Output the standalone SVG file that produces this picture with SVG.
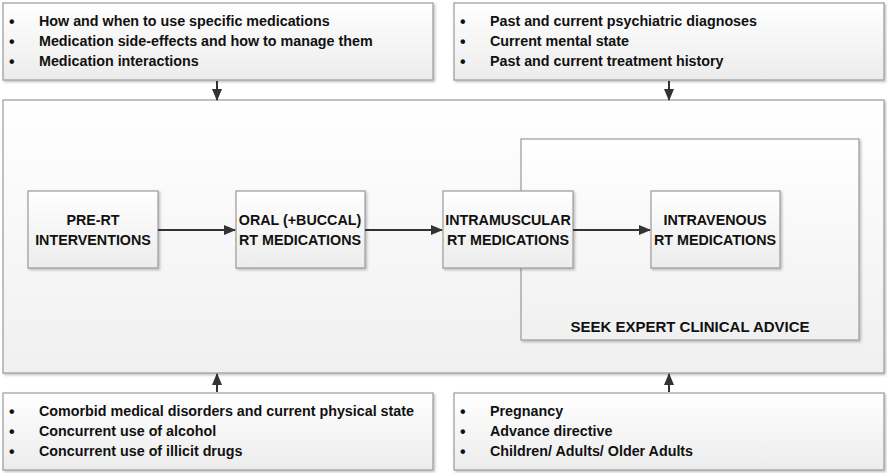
<svg xmlns="http://www.w3.org/2000/svg" width="887" height="473" viewBox="0 0 887 473">
<style>
text{font-family:"Liberation Sans",Arial,sans-serif;font-weight:bold;fill:#111;}
.b{font-size:14.3px;}
.d{font-size:16px;}
.n{font-size:14.3px;text-anchor:middle;}
.box{fill:url(#g);stroke:#9a9a9a;stroke-width:1.2;filter:url(#sh);}
.conn{stroke:#333;stroke-width:2;fill:none;marker-end:url(#ah);}
</style>
<defs>
<linearGradient id="g" x1="0" y1="0" x2="0" y2="1">
<stop offset="0" stop-color="#ffffff"/>
<stop offset="1" stop-color="#ececec"/>
</linearGradient>
<linearGradient id="gm" x1="0" y1="0" x2="0" y2="1">
<stop offset="0" stop-color="#ffffff"/>
<stop offset="1" stop-color="#f0f0f0"/>
</linearGradient>
<filter id="sh" x="-5%" y="-5%" width="110%" height="115%">
<feDropShadow dx="1.5" dy="1.5" stdDeviation="1" flood-color="#000" flood-opacity="0.25"/>
</filter>
<marker id="ah" markerWidth="12" markerHeight="10" refX="11" refY="5" orient="auto" markerUnits="userSpaceOnUse">
<path d="M0,0 L12,5 L0,10 z" fill="#333"/>
</marker>
</defs>
<rect width="887" height="473" fill="#ffffff"/>

<g id="main">
<rect x="3" y="100" width="881" height="273" style="fill:url(#gm);stroke:#9a9a9a;stroke-width:1.2;filter:url(#sh)"/>
</g>
<g id="seek">
<rect x="521" y="139" width="338" height="201" class="box" style="fill:url(#gm)"/>
<text x="690" y="332" class="n" style="font-size:15px">SEEK EXPERT CLINICAL ADVICE</text>
</g>

<g id="top-left">
<rect x="3" y="3" width="430" height="77" class="box"/>
<text x="9" y="27" class="d">•</text><text x="39" y="26" class="b">How and when to use specific medications</text>
<text x="9" y="47" class="d">•</text><text x="39" y="46" class="b">Medication side-effects and how to manage them</text>
<text x="9" y="67" class="d">•</text><text x="39" y="66" class="b">Medication interactions</text>
</g>
<g id="top-right">
<rect x="454" y="3" width="430" height="77" class="box"/>
<text x="460" y="27" class="d">•</text><text x="490" y="26" class="b">Past and current psychiatric diagnoses</text>
<text x="460" y="47" class="d">•</text><text x="490" y="46" class="b">Current mental state</text>
<text x="460" y="67" class="d">•</text><text x="490" y="66" class="b">Past and current treatment history</text>
</g>
<g id="bottom-left">
<rect x="3" y="393" width="430" height="77" class="box"/>
<text x="9" y="417" class="d">•</text><text x="39" y="416" class="b">Comorbid medical disorders and current physical state</text>
<text x="9" y="437" class="d">•</text><text x="39" y="436" class="b">Concurrent use of alcohol</text>
<text x="9" y="457" class="d">•</text><text x="39" y="456" class="b">Concurrent use of illicit drugs</text>
</g>
<g id="bottom-right">
<rect x="454" y="393" width="430" height="77" class="box"/>
<text x="460" y="417" class="d">•</text><text x="490" y="416" class="b">Pregnancy</text>
<text x="460" y="437" class="d">•</text><text x="490" y="436" class="b">Advance directive</text>
<text x="460" y="457" class="d">•</text><text x="490" y="456" class="b">Children/ Adults/ Older Adults</text>
</g>

<g id="pre-rt">
<rect x="28" y="191" width="130" height="77" class="box"/>
<text x="93" y="225" class="n">PRE-RT</text>
<text x="93" y="245" class="n">INTERVENTIONS</text>
</g>
<g id="oral">
<rect x="236" y="191" width="129" height="77" class="box"/>
<text x="300" y="225" class="n">ORAL (+BUCCAL)</text>
<text x="300" y="245" class="n">RT MEDICATIONS</text>
</g>
<g id="intramuscular">
<rect x="443" y="191" width="130" height="77" class="box"/>
<text x="508" y="225" class="n">INTRAMUSCULAR</text>
<text x="508" y="245" class="n">RT MEDICATIONS</text>
</g>
<g id="intravenous">
<rect x="651" y="191" width="129" height="77" class="box"/>
<text x="715" y="225" class="n">INTRAVENOUS</text>
<text x="715" y="245" class="n">RT MEDICATIONS</text>
</g>

<g id="connectors">
<line x1="158" y1="230" x2="235" y2="230" class="conn"/>
<line x1="365" y1="230" x2="442" y2="230" class="conn"/>
<line x1="573" y1="230" x2="650" y2="230" class="conn"/>
<line x1="217" y1="81" x2="217" y2="100" class="conn"/>
<line x1="669" y1="81" x2="669" y2="100" class="conn"/>
<line x1="217" y1="392" x2="217" y2="374" class="conn"/>
<line x1="669" y1="392" x2="669" y2="374" class="conn"/>
</g>
</svg>
